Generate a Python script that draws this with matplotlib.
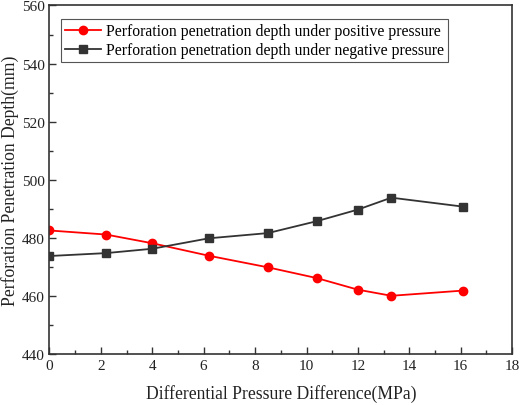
import matplotlib.pyplot as plt
import numpy as np

plt.rcParams['font.family'] = ['Liberation Serif', 'DejaVu Serif']

# differential pressure (MPa)
pressure = [0, 2.2, 4, 6.2, 8.5, 10.4, 12, 13.3, 16.1]
depth_positive = [482.5, 481.1, 478.1, 473.8, 469.8, 466.1, 462.1, 460.0, 461.8]
depth_negative = [473.7, 474.7, 476.2, 479.8, 481.6, 485.7, 489.7, 493.8, 490.7]

fig = plt.figure(figsize=(5.2, 4.06), dpi=100)
ax = fig.add_axes([0.095, 0.126, 0.89, 0.858])

ax.plot(pressure, depth_positive, color='#ff0000', marker='o', markersize=6,
        linewidth=1.3, label='Perforation penetration depth under positive pressure')
ax.plot(pressure, depth_negative, color='#333333', marker='s', markersize=5.5,
        linewidth=1.3, label='Perforation penetration depth under negative pressure')

ax.set_xlim(0, 18)
ax.set_ylim(440, 560)
ax.set_xticks(np.arange(0, 19, 2))
ax.set_xticks(np.arange(0, 19, 1), minor=True)
ax.set_yticks(np.arange(440, 561, 20))
ax.set_yticks(np.arange(440, 561, 10), minor=True)
ax.tick_params(which='both', direction='in', labelsize=11, width=1, colors='#333333', labelcolor='#222222')
ax.tick_params(which='major', length=5)
ax.tick_params(which='minor', length=3)
for s in ax.spines.values():
    s.set_linewidth(1.2)
    s.set_color('#333333')

ax.set_xlabel('Differential Pressure Difference(MPa)', fontsize=12.7, color='#222222', labelpad=9)
ax.set_ylabel('Perforation Penetration Depth(mm)', fontsize=12.7, color='#222222', labelpad=2)

leg = ax.legend(loc='upper left', bbox_to_anchor=(0.025, 0.96), fontsize=11.3, fancybox=False,
                edgecolor='#555555', framealpha=1, handlelength=2.3, handletextpad=0.3,
                borderpad=0.25, labelspacing=0.2, borderaxespad=0)
leg.get_frame().set_linewidth(0.8)

fig.savefig('out.png', dpi=100)
